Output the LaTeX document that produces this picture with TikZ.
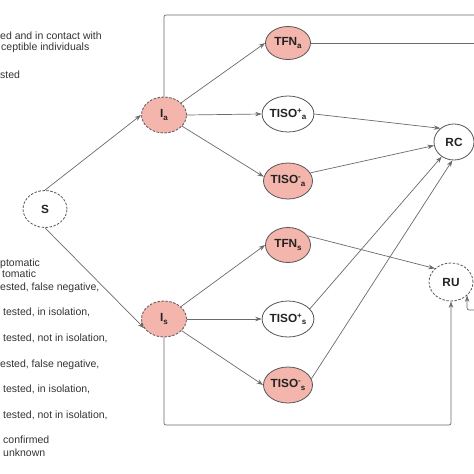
\documentclass[tikz,border=0pt]{standalone}
\usepackage{fontspec}
\setmainfont{Liberation Sans}
\usetikzlibrary{shapes.geometric,arrows.meta}
\definecolor{pinkc}{HTML}{F4B5AC}
\definecolor{bordc}{HTML}{555555}
\definecolor{edgec}{HTML}{6A6A6A}
\definecolor{txtc}{HTML}{222222}
\definecolor{legc}{HTML}{333333}
\newcommand\mysub[1]{\raisebox{-0.35ex}{\fontsize{8}{8}\selectfont #1}}
\newcommand\mysup[1]{\raisebox{0.65ex}{\fontsize{8}{8}\selectfont #1}}
\newcommand\labfont{\fontsize{11.8}{12}\selectfont\bfseries}
\newcommand\legfont{\fontsize{10.5}{12}\selectfont}
\tikzset{
  st/.style={ellipse, draw=bordc, line width=0.8pt, minimum width=45pt, minimum height=36pt, inner sep=0pt, font=\labfont, text=txtc},
  pinkst/.style={st, fill=pinkc},
  dsh/.style={dash pattern=on 2.5pt off 1.5pt},
  edge/.style={draw=edgec, line width=0.7pt, -{Stealth[length=6.5pt,width=4.5pt]}},
  plain/.style={draw=edgec, line width=0.7pt},
  leg/.style={anchor=base west, inner sep=0pt, font=\legfont, text=legc}
}
\begin{document}
\begin{tikzpicture}[x=1pt,y=-1pt]
\useasboundingbox (0,0) rectangle (474,474);
% legend text (cut at left edge)
\node[leg] (l1) at (0,39) {ed and in contact with};
\node[leg] (l2) at (1,50) {ceptible individuals};
\node[leg] (l3) at (0,78) {sted};
\node[leg] (l4) at (0,266) {ptomatic};
\node[leg] (l5) at (2,277) {tomatic};
\node[leg] (l6) at (0,290) {ested, false negative,};
\node[leg] (l7) at (3,315) {tested, in isolation,};
\node[leg] (l8) at (3,341) {tested, not in isolation,};
\node[leg] (l9) at (0,367) {ested, false negative,};
\node[leg] (l10) at (3,392) {tested, in isolation,};
\node[leg] (l11) at (3,418) {tested, not in isolation,};
\node[leg] (l12) at (3,443) {confirmed};
\node[leg] (l13) at (3,456) {unknown};
% nodes
\node[st, dsh, minimum width=44pt, minimum height=37pt] (S) at (45,209) {S};
\node[pinkst, dsh] (Ia) at (164,115) {I\mysub{a}};
\node[pinkst, dsh] (Is) at (164,319) {I\mysub{s}};
\node[pinkst, minimum height=33pt] (TFNa) at (288,43) {TFN\mysub{a}};
\node[st] (TISOpa) at (288,114) {TISO\mysup{+}\mysub{a}};
\node[pinkst] (TISOma) at (288,181) {TISO\mysup{-}\mysub{a}};
\node[pinkst, minimum height=35pt] (TFNs) at (288,245) {TFN\mysub{s}};
\node[st] (TISOps) at (288,319) {TISO\mysup{+}\mysub{s}};
\node[pinkst] (TISOms) at (288,385) {TISO\mysup{-}\mysub{s}};
\node[st, minimum width=40pt] (RC) at (454,142) {RC};
\node[st, dsh, minimum width=44pt, minimum height=38pt] (RU) at (451,282) {RU};
% connectors
\draw[edge] (S.north) -- (Ia.west);
\draw[edge] (S.south) -- (Is.205);
\draw[edge] (Ia) -- (TFNa.west);
\draw[edge] (Ia.east) -- (TISOpa.west);
\draw[edge] (Ia) -- (TISOma.170);
\draw[edge] (Is) -- (TFNs.west);
\draw[edge] (Is.east) -- (TISOps.west);
\draw[edge] (Is) -- (TISOms.west);
\draw[edge] (TISOpa.east) -- (RC.135);
\draw[edge] (TISOma.20) -- (RC.190);
\draw[edge] (TISOps.25) -- (RC.230);
\draw[edge] (TISOms.15) -- (RC.265);
\draw[edge] (TFNs.25) -- (RU.140);
\coordinate (topR) at (474,15);
\coordinate (tfnR) at (474,43);
\coordinate (bot) at (451,425);
\coordinate (ruR) at (474,310);
\draw[plain, rounded corners=2pt] (Ia.north) |- (topR);
\draw[plain] (TFNa.east) -- (tfnR);
\draw[edge, rounded corners=2pt] (Is.south) |- (bot) -- (RU.south);
\draw[edge, rounded corners=2pt] (ruR) -| (RU.320);
\end{tikzpicture}
\end{document}
